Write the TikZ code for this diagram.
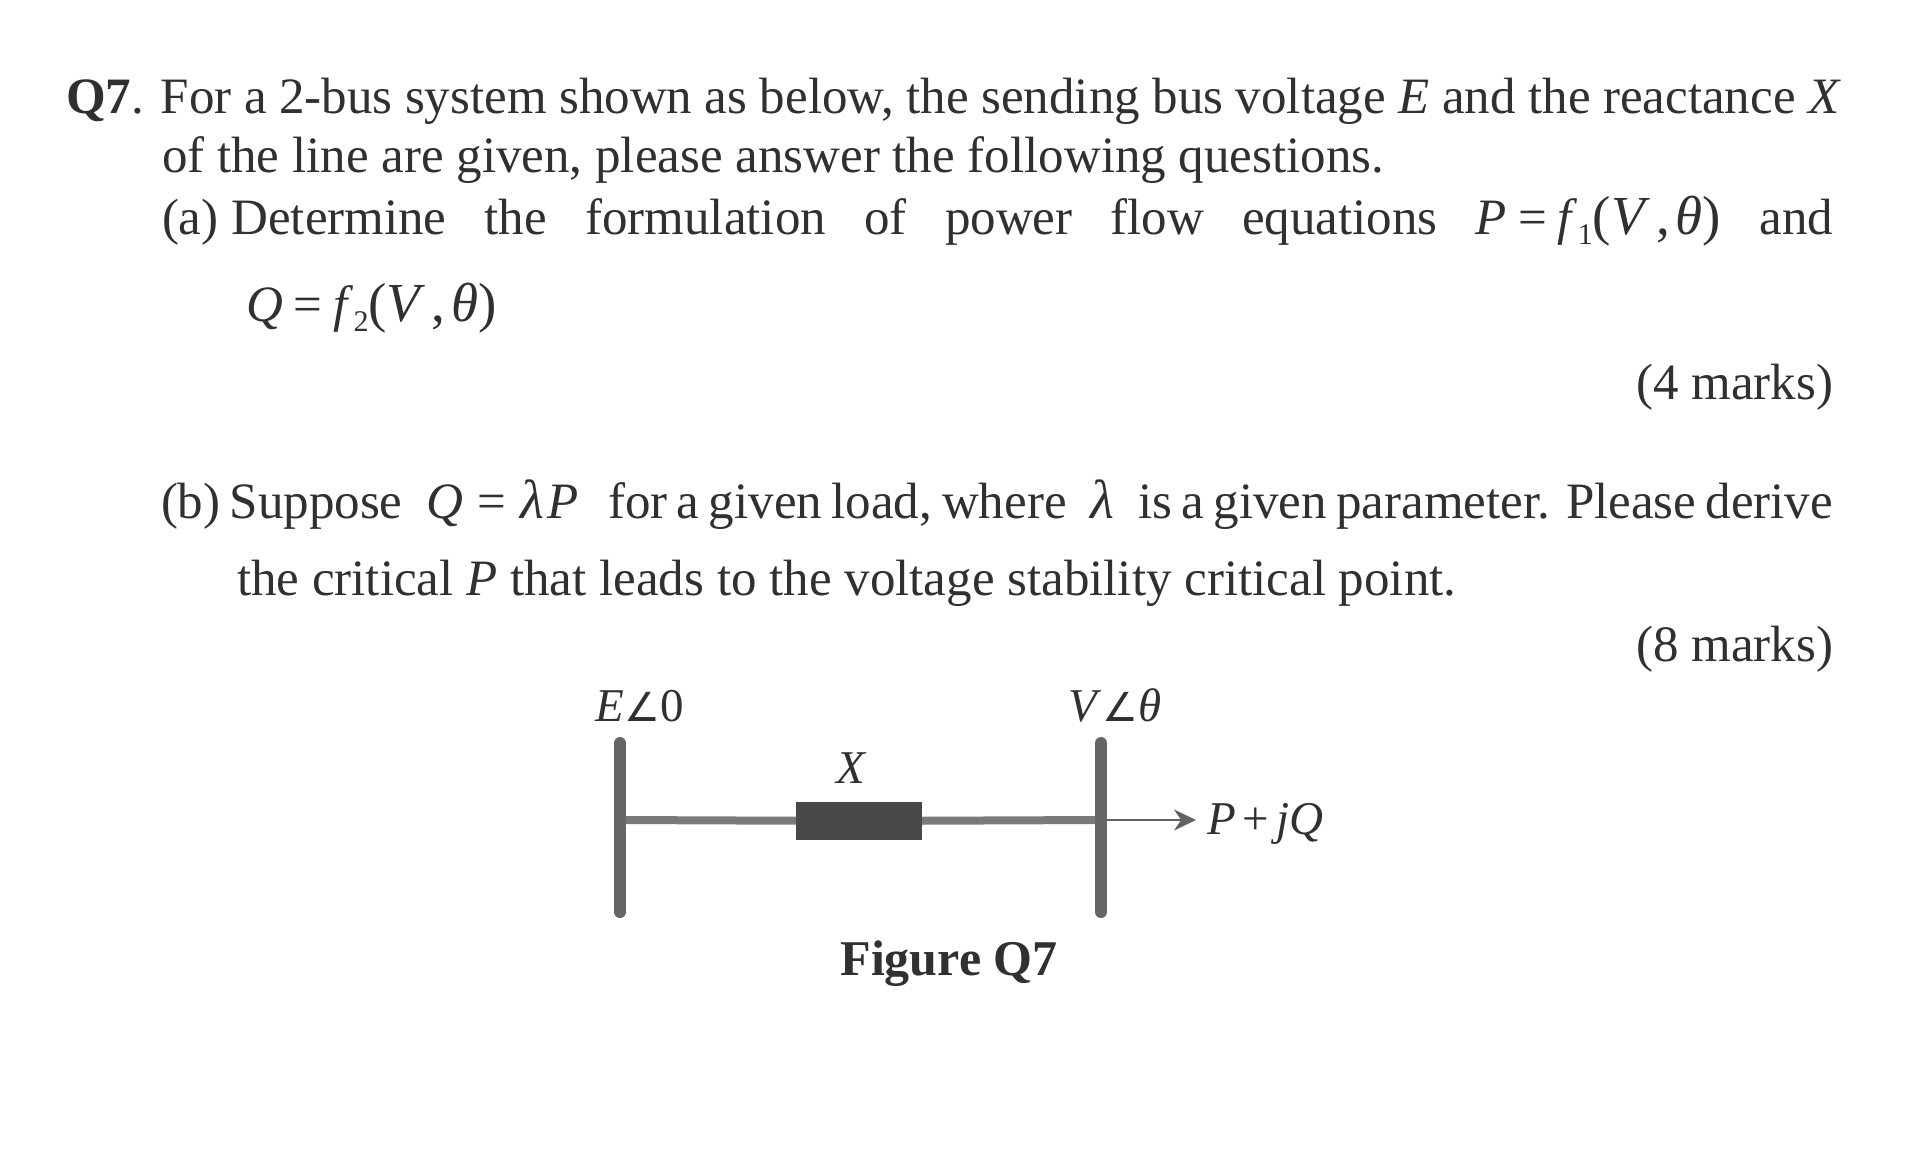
\documentclass[tikz,border=0pt]{standalone}
\usepackage{fontspec}
\setmainfont{Liberation Serif}
\newfontfamily\symfont{DejaVu Sans}
\definecolor{ink}{HTML}{303030}
\definecolor{busgray}{HTML}{666666}
\definecolor{linegray}{HTML}{7A7A7A}
\definecolor{boxgray}{HTML}{484848}
\usetikzlibrary{arrows.meta}
\newcommand{\vr}[1]{\textit{#1}}
\newcommand{\sbs}[1]{\raisebox{-0.2em}{\fontsize{30}{30}\selectfont #1}}
\newcommand{\ang}{{\symfont\fontsize{40}{40}\selectfont\kern1pt ∠\kern0pt}}
\newcommand{\fit}[2]{\makebox[#1pt][s]{#2}}
\newcommand{\mbig}[1]{{\fontsize{55}{55}\selectfont #1}}
\tikzset{
  txt/.style={anchor=base west,inner sep=0pt,outer sep=0pt,text=ink,font=\fontsize{51}{51}\selectfont},
  txtr/.style={txt,anchor=base east},
  lbl/.style={anchor=base,inner sep=0pt,outer sep=0pt,text=ink,font=\fontsize{47}{47}\selectfont},
  bus/.style={draw=busgray,line width=12pt,line cap=round},
  feeder/.style={draw=linegray,line width=8pt},
  flow/.style={draw=linegray!80!black,line width=2.5pt,-{Stealth[length=22pt,width=21pt]}},
  reactance/.style={fill=boxgray,draw=none,minimum width=126pt,minimum height=38pt,inner sep=0pt}
}
\begin{document}
\begin{tikzpicture}[x=1pt,y=-1pt]
\path[use as bounding box,fill=white] (0,0) rectangle (1928,1160);
% text
\node[txt] (l1) at (66,113) {\fit{1775}{\textbf{Q7}. For a 2-bus system shown as below, the sending bus voltage \vr{E} and the reactance \vr{X}}};
\node[txt] (l2) at (162,172) {of the line are given, please answer the following questions.};
\node[txt] (l3) at (162,234) {\fit{1671}{(a) Determine \hfil the \hfil formulation \hfil of \hfil power \hfil flow \hfil equations \hfil \vr{P}\kern11pt=\kern11pt\vr{f}\kern0pt\sbs{1}\mbig{(\vr{V}\kern6pt,\kern6pt\vr{θ})} \hfil and}};
\node[txt] (l4) at (246,321) {\vr{Q}\kern11pt=\kern11pt\vr{f}\kern0pt\sbs{2}\mbig{(\vr{V}\kern6pt,\kern6pt\vr{θ})}};
\node[txtr] (m4) at (1833,399) {(4 marks)};
\node[txt] (l5) at (161,518) {\fit{1672}{(b) Suppose\kern24pt\vr{Q}\kern14pt=\kern14pt\mbig{\vr{λ}}\kern3pt\vr{P}\kern30pt for a given load, where\kern24pt\mbig{\vr{λ}}\kern24pt is a given parameter. Please derive}};
\node[txt] (l6) at (237,595) {the critical \vr{P} that leads to the voltage stability critical point.};
\node[txtr] (m8) at (1833,661) {(8 marks)};
% diagram labels
\node[lbl,anchor=base west] (eang) at (595,721) {\vr{E}\ang 0};
\node[lbl,anchor=base west] (vang) at (1068,721) {\vr{V}\ang\vr{θ}};
\node[lbl] (xl) at (852,783) {\vr{X}};
\node[lbl,anchor=base west] (pq) at (1207,834) {\vr{P}\kern7pt+\kern7pt\vr{jQ}};
\node[txt,anchor=base,font=\fontsize{50}{50}\selectfont\bfseries] (cap) at (949,975) {Figure Q7};
% buses
\coordinate (b1t) at (620,743);
\coordinate (b1b) at (620,912);
\coordinate (b2t) at (1101,743);
\coordinate (b2b) at (1101,912);
\coordinate (b1m) at (620,820);
\coordinate (b2m) at (1101,820);
\coordinate (tip) at (1196,820);
\node[reactance] (rx) at (859,821) {};
\draw[feeder] (b1m) -- (rx);
\draw[feeder] (rx) -- (b2m);
\draw[flow] (b2m) -- (tip);
\draw[bus] (b1t) -- (b1b);
\draw[bus] (b2t) -- (b2b);
\end{tikzpicture}
\end{document}
